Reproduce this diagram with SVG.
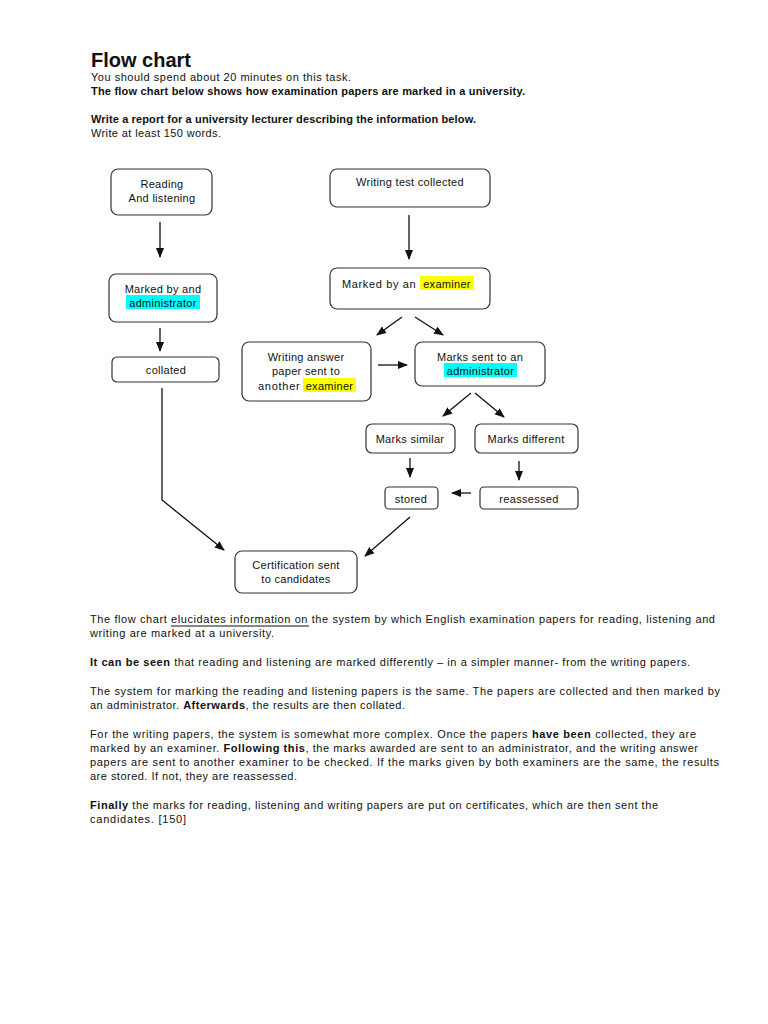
<svg xmlns="http://www.w3.org/2000/svg" width="768" height="1024" viewBox="0 0 768 1024">
<style>
text{font-family:"Liberation Sans",Arial,sans-serif;fill:#111;}
.t{font-size:11px;}
.n{font-size:11px;text-anchor:middle;letter-spacing:0.3px;}
.s{font-size:11px;letter-spacing:0.3px;}
.b{font-weight:bold;}
.box{fill:#fff;stroke:#333;stroke-width:1.2;}
.c{stroke:#111;stroke-width:1.3;fill:none;marker-end:url(#ah);}
.hy{fill:#ffff00;}
.hc{fill:#00ffff;}
</style>
<defs>
<marker id="ah" markerUnits="userSpaceOnUse" markerWidth="10" markerHeight="10" viewBox="0 0 10 10" refX="9" refY="5" orient="auto">
<path d="M0,1 L10,5 L0,9 Z" fill="#111"/>
</marker>
</defs>
<rect width="768" height="1024" fill="#fff"/>
<g id="header">
<text x="91" y="67" font-size="20" class="b">Flow chart</text>
<text x="91" y="81" class="t" textLength="260">You should spend about 20 minutes on this task.</text>
<text x="91" y="95" class="t b" textLength="434">The flow chart below shows how examination papers are marked in a university.</text>
<text x="91" y="123" class="t b" textLength="385">Write a report for a university lecturer describing the information below.</text>
<text x="91" y="137" class="t" textLength="130">Write at least 150 words.</text>
</g>
<g id="connectors">
<line class="c" x1="160" y1="222" x2="160" y2="257"/>
<line class="c" x1="160" y1="328" x2="160" y2="351"/>
<polyline class="c" points="162,388 162,500 224,550"/>
<line class="c" x1="409" y1="215" x2="409" y2="259"/>
<line class="c" x1="402" y1="317" x2="377" y2="335"/>
<line class="c" x1="415" y1="317" x2="443" y2="335"/>
<line class="c" x1="378" y1="365" x2="407" y2="365"/>
<line class="c" x1="471" y1="393" x2="443" y2="416"/>
<line class="c" x1="475" y1="393" x2="504" y2="417"/>
<line class="c" x1="410" y1="458" x2="410" y2="477"/>
<line class="c" x1="519" y1="461" x2="519" y2="480"/>
<line class="c" x1="471" y1="493" x2="452" y2="493"/>
<line class="c" x1="410" y1="517" x2="365" y2="556"/>
</g>
<g id="n-reading">
<rect class="box" x="111" y="169" width="101" height="46" rx="7"/>
<text class="n" x="162" y="188">Reading</text>
<text class="n" x="162" y="202">And listening</text>
</g>
<g id="n-writing-test">
<rect class="box" x="330" y="169" width="160" height="38" rx="7"/>
<text class="n" x="410" y="186">Writing test collected</text>
</g>
<g id="n-marked-admin">
<rect class="box" x="109" y="274" width="108" height="48" rx="7"/>
<rect class="hc" x="126" y="295" width="74" height="14"/>
<text class="n" x="163" y="293">Marked by and</text>
<text class="n" x="163" y="307">administrator</text>
</g>
<g id="n-marked-examiner">
<rect class="box" x="330" y="268" width="160" height="41" rx="7"/>
<rect class="hy" x="420" y="276" width="54" height="14"/>
<text class="s" x="342" y="288" textLength="74">Marked by an</text>
<text class="n" x="447" y="288">examiner</text>
</g>
<g id="n-collated">
<rect class="box" x="112" y="357" width="107" height="25" rx="5"/>
<text class="n" x="166" y="374">collated</text>
</g>
<g id="n-writing-answer">
<rect class="box" x="242" y="342" width="129" height="59" rx="7"/>
<rect class="hy" x="303" y="378" width="53" height="14"/>
<text class="n" x="306" y="361">Writing answer</text>
<text class="n" x="306" y="375">paper sent to</text>
<text class="s" x="258" y="390" textLength="42">another</text>
<text class="n" x="329.5" y="390">examiner</text>
</g>
<g id="n-marks-sent">
<rect class="box" x="415" y="342" width="130" height="44" rx="7"/>
<rect class="hc" x="444" y="363" width="73" height="14"/>
<text class="n" x="480" y="361">Marks sent to an</text>
<text class="n" x="480.5" y="375">administrator</text>
</g>
<g id="n-marks-similar">
<rect class="box" x="366" y="424" width="89" height="29" rx="6"/>
<text class="n" x="410" y="443">Marks similar</text>
</g>
<g id="n-marks-different">
<rect class="box" x="475" y="424" width="103" height="29" rx="6"/>
<text class="n" x="526" y="443">Marks different</text>
</g>
<g id="n-stored">
<rect class="box" x="385" y="487" width="53" height="22" rx="4"/>
<text class="n" x="411" y="503">stored</text>
</g>
<g id="n-reassessed">
<rect class="box" x="480" y="487" width="98" height="22" rx="4"/>
<text class="n" x="529" y="503">reassessed</text>
</g>
<g id="n-certification">
<rect class="box" x="235" y="551" width="122" height="42" rx="7"/>
<text class="n" x="296" y="569">Certification sent</text>
<text class="n" x="296" y="583">to candidates</text>
</g>
<g id="body">
<text x="90" y="623" class="t" textLength="625">The flow chart elucidates information on the system by which English examination papers for reading, listening and</text>
<line x1="171" y1="626" x2="309" y2="626" stroke="#111" stroke-width="1"/>
<text x="90" y="637" class="t" textLength="184">writing are marked at a university.</text>
<text x="90" y="666" class="t" textLength="600"><tspan class="b">It can be seen</tspan> that reading and listening are marked differently – in a simpler manner- from the writing papers.</text>
<text x="90" y="695" class="t" textLength="630">The system for marking the reading and listening papers is the same. The papers are collected and then marked by</text>
<text x="90" y="709" class="t" textLength="315">an administrator. <tspan class="b">Afterwards</tspan>, the results are then collated.</text>
<text x="90" y="738" class="t" textLength="606">For the writing papers, the system is somewhat more complex. Once the papers <tspan class="b">have been</tspan> collected, they are</text>
<text x="90" y="752" class="t" textLength="608">marked by an examiner. <tspan class="b">Following this</tspan>, the marks awarded are sent to an administrator, and the writing answer</text>
<text x="90" y="766" class="t" textLength="629">papers are sent to another examiner to be checked. If the marks given by both examiners are the same, the results</text>
<text x="90" y="780" class="t" textLength="207">are stored. If not, they are reassessed.</text>
<text x="90" y="809" class="t" textLength="568"><tspan class="b">Finally</tspan> the marks for reading, listening and writing papers are put on certificates, which are then sent the</text>
<text x="90" y="823" class="t" textLength="96">candidates. [150]</text>
</g>
</svg>
